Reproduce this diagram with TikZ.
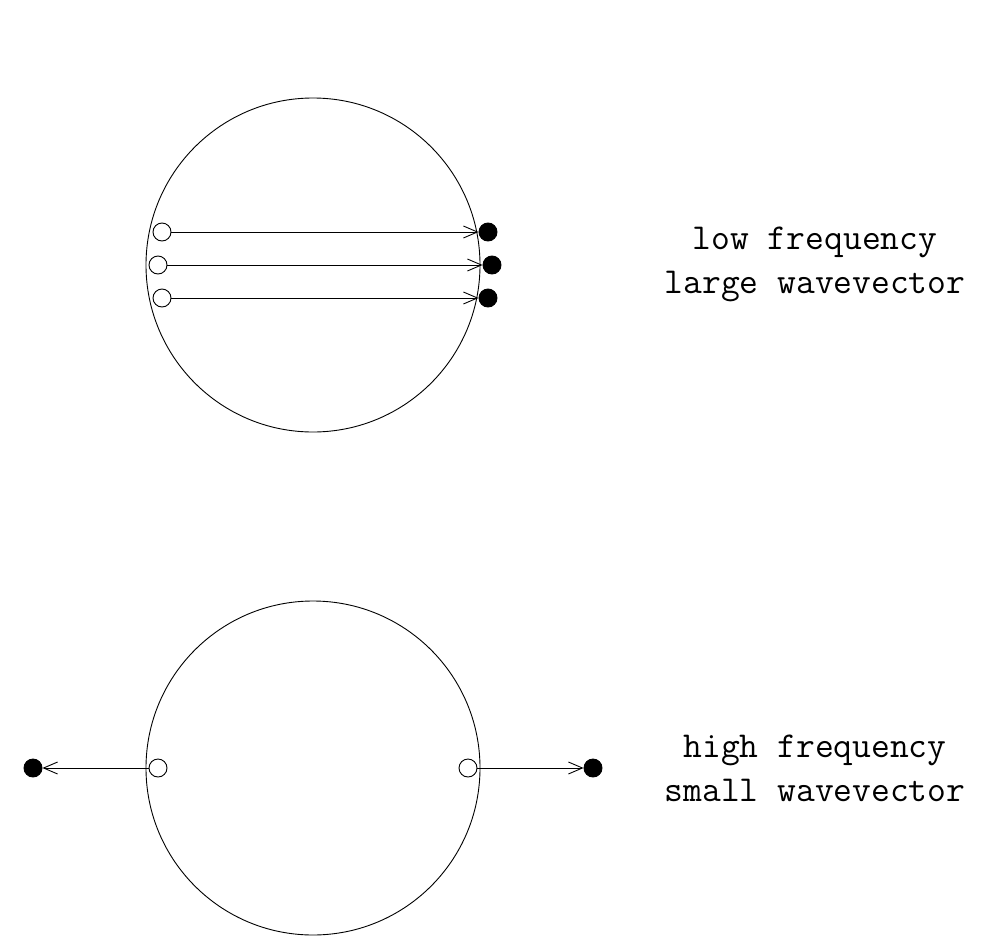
\documentclass[tikz,border=0pt]{standalone}
\usetikzlibrary{arrows.meta}
\begin{document}
\begin{tikzpicture}[x=1pt,y=-1pt,line width=0.9pt,
  open/.style={circle,draw,fill=white,minimum size=18pt,inner sep=0pt},
  full/.style={circle,draw,fill=black,minimum size=18pt,inner sep=0pt},
  arr/.style={-{Straight Barb[length=14pt,width=12pt]}},
  lbl/.style={font=\ttfamily\fontsize{36.5}{44}\selectfont,align=center}]
\useasboundingbox (0,0) rectangle (999,937);
\draw (313,265) circle (167);
\draw (313,768) circle (167);
\node[open] (o1) at (162,232) {};
\node[open] (o2) at (158,265) {};
\node[open] (o3) at (162,298) {};
\node[full] (f1) at (488,232) {};
\node[full] (f2) at (492,265) {};
\node[full] (f3) at (488,298) {};
\draw[arr] (o1) -- (f1);
\draw[arr] (o2) -- (f2);
\draw[arr] (o3) -- (f3);
\node[open] (o4) at (158,768) {};
\node[open] (o5) at (468,768) {};
\node[full] (f4) at (33,768) {};
\node[full] (f5) at (593,768) {};
\draw[arr] (o4) -- (f4);
\draw[arr] (o5) -- (f5);
\node[lbl] (t1) at (815,264) {low frequency\\large wavevector};
\node[lbl] (t2) at (815,768) {high frequency\\small wavevector};
\end{tikzpicture}
\end{document}
